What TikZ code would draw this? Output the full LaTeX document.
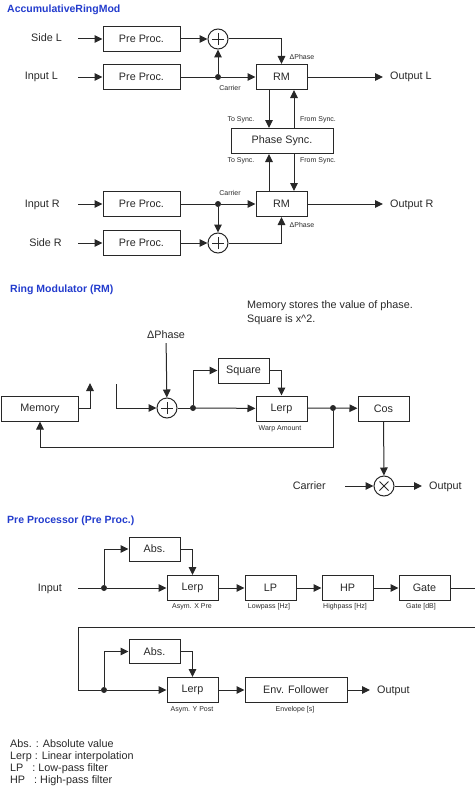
\documentclass[tikz,border=0pt]{standalone}
\usepackage{fontspec}
\setmainfont{Liberation Sans}
\usetikzlibrary{arrows.meta,positioning}
\definecolor{titleblue}{RGB}{35,60,205}
\definecolor{ink}{RGB}{40,40,40}

\begin{document}
\begin{tikzpicture}[
    x=1pt, y=-1pt,
    font=\fontsize{10.8}{13}\selectfont,
    color=ink,
    % Node styles
    block/.style={draw, line width=1pt, minimum width=51pt, minimum height=25pt, inner sep=0pt},
    wide/.style={block, minimum width=77pt},
    wider/.style={block, minimum width=102pt},
    lbl/.style={inner sep=0pt, text height=8pt, text depth=2pt},
    param/.style={inner sep=0pt, font=\fontsize{7}{8}\selectfont},
    heading/.style={anchor=west, inner sep=0pt, text=titleblue, font=\fontsize{10.5}{12}\selectfont\bfseries},
    sum/.style={circle, draw, line width=1pt, minimum size=20pt, inner sep=0pt,
        path picture={\draw[line width=0.8pt]
            ([yshift=-6pt]path picture bounding box.center) -- ([yshift=6pt]path picture bounding box.center)
            ([xshift=-6pt]path picture bounding box.center) -- ([xshift=6pt]path picture bounding box.center);}},
    mult/.style={circle, draw, line width=1pt, minimum size=20pt, inner sep=0pt,
        path picture={\draw[line width=0.8pt]
            ([shift={(-4.5pt,-4.5pt)}]path picture bounding box.center) -- ([shift={(4.5pt,4.5pt)}]path picture bounding box.center)
            ([shift={(-4.5pt,4.5pt)}]path picture bounding box.center) -- ([shift={(4.5pt,-4.5pt)}]path picture bounding box.center);}},
    junction/.style={circle, fill, inner sep=0pt, minimum size=6pt},
    line/.style={line width=1pt},
    arrow/.style={line, -{Triangle[length=8pt,width=7.5pt]}},
]
    \useasboundingbox (0,0) rectangle (474,792);

    % AccumulativeRingMod
    \node[heading] (title1) at (7,10) {AccumulativeRingMod};

    \node[lbl, anchor=east, inner xsep=16pt] (sideL) at (78,39) {Side L};
    \node[lbl, anchor=east, inner xsep=20pt] (inL) at (78,77) {Input L};
    \node[wide] (preSL) at (141.5,39) {Pre Proc.};
    \node[wide] (preIL) at (141.5,77) {Pre Proc.};
    \node[sum] (sumL) at (218,39) {};
    \node[junction] (dotL) at (218,77) {};
    \node[block] (rmL) at (281.5,77) {RM};
    \node[lbl, anchor=west, inner xsep=7pt] (outL) at (383,77) {Output L};

    \node[wider] (sync) at (282,141) {Phase Sync.};

    \node[lbl, anchor=east, inner xsep=18pt] (inR) at (78,204) {Input R};
    \node[lbl, anchor=east, inner xsep=16pt] (sideR) at (78,243) {Side R};
    \node[wide] (preIR) at (141.5,204) {Pre Proc.};
    \node[wide] (preSR) at (141.5,243) {Pre Proc.};
    \node[junction] (dotR) at (218,204) {};
    \node[sum] (sumR) at (218,243) {};
    \node[block] (rmR) at (281.5,204) {RM};
    \node[lbl, anchor=west, inner xsep=7pt] (outR) at (383,204) {Output R};

    \node[param] at (302,57) {ΔPhase};
    \node[param] at (230,88) {Carrier};
    \node[param] at (241,120) {To Sync.};
    \node[param] at (318,120) {From Sync.};
    \node[param] at (241,161) {To Sync.};
    \node[param] at (318,161) {From Sync.};
    \node[param] at (230,193) {Carrier};
    \node[param] at (302,225) {ΔPhase};

    \draw[arrow] (sideL) -- (preSL);
    \draw[arrow] (inL) -- (preIL);
    \draw[arrow] (preSL) -- (sumL);
    \draw[line] (preIL) -- (dotL);
    \draw[arrow] (dotL) -- (sumL);
    \draw[arrow] (dotL) -- (rmL);
    \draw[arrow] (sumL) -| (rmL);
    \draw[arrow] (rmL) -- (outL);
    \draw[arrow] ([xshift=-12.5pt]rmL.south) -- ([xshift=-12.5pt]rmL.south |- sync.north);
    \draw[arrow] ([xshift=12.5pt]rmL.south |- sync.north) -- ([xshift=12.5pt]rmL.south);
    \draw[arrow] ([xshift=-12.5pt]rmR.north) -- ([xshift=-12.5pt]rmR.north |- sync.south);
    \draw[arrow] ([xshift=12.5pt]rmR.north |- sync.south) -- ([xshift=12.5pt]rmR.north);

    \draw[arrow] (inR) -- (preIR);
    \draw[arrow] (sideR) -- (preSR);
    \draw[line] (preIR) -- (dotR);
    \draw[arrow] (dotR) -- (rmR);
    \draw[arrow] (dotR) -- (sumR);
    \draw[arrow] (preSR) -- (sumR);
    \draw[arrow] (sumR) -| (rmR);
    \draw[arrow] (rmR) -- (outR);

    % Ring Modulator (RM)
    \node[heading] (title2) at (10,290) {Ring Modulator (RM)};
    \node[anchor=north west, inner sep=0pt, align=left, font=\fontsize{10.8}{14}\selectfont] (memo) at (247,300)
        {Memory stores the value of phase.\\Square is x\^{}2.};

    \node[lbl, inner ysep=3pt] (dphase) at (166,335) {ΔPhase};
    \node[wide, anchor=west] (memory) at (1,408.5) {Memory};
    \coordinate (memout) at (90,383);
    \coordinate (feedin) at (116,384);
    \node[sum] (sumRM) at (167,408) {};
    \node[junction] (dotA) at (193,408) {};
    \node[block] (square) at (243.5,370.5) {Square};
    \node[block] (lerp) at (281.5,408.5) {Lerp};
    \node[param] at (280,429) {Warp Amount};
    \node[junction] (dotB) at (333,408) {};
    \node[block] (cos) at (383.5,408.5) {Cos};
    \node[mult] (mix) at (384,486) {};
    \node[lbl, anchor=east, inner xsep=19pt] (carrier) at (345,486) {Carrier};
    \node[lbl, anchor=west, inner xsep=7pt] (outRM) at (422,486) {Output};

    \draw[arrow] (memory) -| (memout);
    \draw[arrow] (feedin) |- (sumRM);
    \draw[arrow] (dphase) -- (sumRM);
    \draw[line] (sumRM) -- (dotA);
    \draw[arrow] (dotA) -- (lerp);
    \draw[arrow] (dotA) |- (square);
    \draw[arrow] (square) -| (lerp);
    \draw[line] (lerp) -- (dotB);
    \draw[arrow] (dotB) -- (cos);
    \draw[arrow] (dotB) -- ++(0,39) -| (memory);
    \draw[arrow] (cos) -- (mix);
    \draw[arrow] (carrier) -- (mix);
    \draw[arrow] (mix) -- (outRM);

    % Pre Processor (Pre Proc.)
    \node[heading] (title3) at (7,521) {Pre Processor (Pre Proc.)};

    \node[lbl, anchor=east, inner xsep=16pt] (input) at (78,588) {Input};
    \node[junction] (dotC) at (104,588) {};
    \node[block, minimum height=24pt] (absA) at (154.5,549) {Abs.};
    \node[block] (lerpA) at (192.5,588) {Lerp};
    \node[block, right=26pt of lerpA] (lp) {LP};
    \node[block, right=25pt of lp] (hp) {HP};
    \node[block, right=25pt of hp] (gate) {Gate};
    \node[param] at (192,607) {Asym. X Pre};
    \node[param] at (269,607) {Lowpass [Hz]};
    \node[param] at (345,607) {Highpass [Hz]};
    \node[param] at (421,607) {Gate [dB]};
    \coordinate (wrapA) at (477,627);
    \coordinate (wrapB) at (78,627);

    \node[junction] (dotD) at (104,690) {};
    \node[block, minimum height=24pt] (absB) at (154.5,651.5) {Abs.};
    \node[block] (lerpB) at (192.5,690) {Lerp};
    \node[wider, right=26pt of lerpB] (env) {Env. Follower};
    \node[lbl, anchor=west, inner xsep=7pt] (outPP) at (370,690) {Output};
    \node[param] at (192,710) {Asym. Y Post};
    \node[param] at (295,710) {Envelope [s]};

    \draw[line] (input) -- (dotC);
    \draw[arrow] (dotC) -- (lerpA);
    \draw[arrow] (dotC) |- (absA);
    \draw[arrow] (absA) -| (lerpA);
    \draw[arrow] (lerpA) -- (lp);
    \draw[arrow] (lp) -- (hp);
    \draw[arrow] (hp) -- (gate);
    \draw[line] (gate) -| (wrapA) -- (wrapB) |- (dotD);
    \draw[arrow] (dotD) -- (lerpB);
    \draw[arrow] (dotD) |- (absB);
    \draw[arrow] (absB) -| (lerpB);
    \draw[arrow] (lerpB) -- (env);
    \draw[arrow] (env) -- (outPP);

    % Legend
    \node[anchor=north west, inner sep=0pt, align=left, font=\fontsize{10.8}{12}\selectfont] (legend) at (10,739)
        {Abs. : Absolute value\\Lerp : Linear interpolation\\LP\ \ \ : Low-pass filter\\HP\ \ \ : High-pass filter};
\end{tikzpicture}
\end{document}
